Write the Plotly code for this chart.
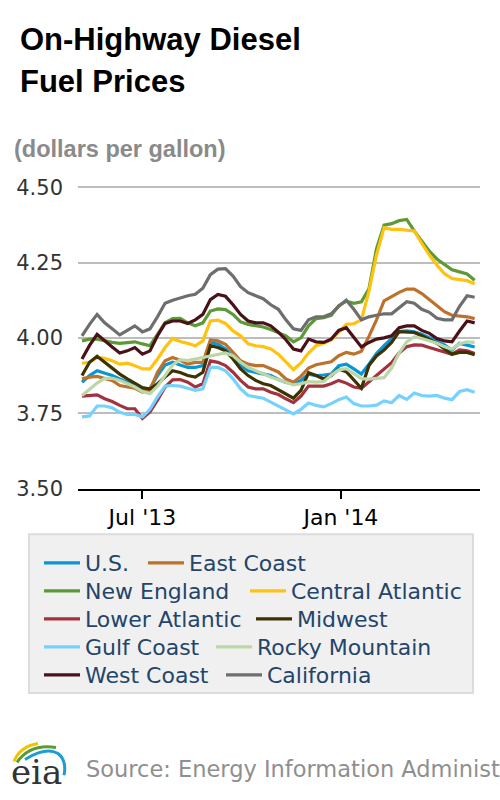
import pandas as pd
import plotly.graph_objects as go

# ---------------- data (weekly, $/gal) ----------------
start_week = "2013-05-06"
n_weeks = 53
weeks = pd.date_range(start_week, periods=n_weeks, freq="7D")

us = [3.853, 3.875, 3.891, 3.884, 3.875, 3.864, 3.853, 3.842, 3.830, 3.833,
      3.875, 3.910, 3.919, 3.910, 3.902, 3.902, 3.908, 3.985, 3.979, 3.963,
      3.935, 3.908, 3.891, 3.886, 3.880, 3.875, 3.862, 3.852, 3.848, 3.859,
      3.880, 3.875, 3.877, 3.880, 3.908, 3.913, 3.897, 3.880, 3.913, 3.948,
      3.974, 3.996, 4.021, 4.023, 4.020, 4.012, 4.001, 3.990, 3.977, 3.960,
      3.982, 3.976, 3.970]
east_coast = [3.864, 3.870, 3.872, 3.866, 3.859, 3.842, 3.837, 3.833, 3.820, 3.826,
              3.886, 3.924, 3.935, 3.926, 3.913, 3.919, 3.919, 3.993, 3.990, 3.979,
              3.952, 3.924, 3.913, 3.908, 3.908, 3.897, 3.887, 3.864, 3.853, 3.873,
              3.900, 3.911, 3.917, 3.921, 3.941, 3.952, 3.946, 3.956, 4.005, 4.060,
              4.123, 4.138, 4.151, 4.162, 4.162, 4.147, 4.127, 4.105, 4.087, 4.075,
              4.072, 4.070, 4.064]
new_england = [3.990, 3.996, 3.996, 3.990, 3.985, 3.982, 3.985, 3.987, 3.980, 3.974,
               4.012, 4.050, 4.064, 4.065, 4.050, 4.040, 4.050, 4.089, 4.096, 4.094,
               4.078, 4.053, 4.045, 4.040, 4.036, 4.028, 4.018, 4.007, 3.987, 4.000,
               4.040, 4.064, 4.067, 4.075, 4.107, 4.122, 4.115, 4.120, 4.163, 4.295,
               4.374, 4.379, 4.389, 4.393, 4.355, 4.322, 4.288, 4.262, 4.244, 4.226,
               4.219, 4.212, 4.191]
central_atlantic = [3.916, 3.919, 3.935, 3.932, 3.924, 3.913, 3.916, 3.908, 3.897, 3.897,
                    3.930, 3.968, 3.998, 3.988, 3.982, 3.974, 3.990, 4.056, 4.059, 4.048,
                    4.023, 4.007, 3.980, 3.974, 3.971, 3.963, 3.946, 3.919, 3.895, 3.917,
                    3.950, 3.974, 3.982, 3.993, 4.018, 4.045, 4.047, 4.060, 4.155, 4.275,
                    4.366, 4.360, 4.360, 4.357, 4.355, 4.314, 4.275, 4.242, 4.213, 4.197,
                    4.193, 4.190, 4.180]
lower_atlantic = [3.807, 3.809, 3.811, 3.798, 3.789, 3.776, 3.765, 3.765, 3.733, 3.754,
                  3.793, 3.837, 3.861, 3.862, 3.853, 3.837, 3.848, 3.924, 3.919, 3.908,
                  3.886, 3.859, 3.837, 3.831, 3.831, 3.820, 3.812, 3.798, 3.785, 3.807,
                  3.840, 3.840, 3.840, 3.848, 3.859, 3.850, 3.837, 3.833, 3.855, 3.875,
                  3.896, 3.918, 3.950, 3.971, 3.977, 3.976, 3.968, 3.960, 3.952, 3.946,
                  3.960, 3.957, 3.948]
midwest = [3.875, 3.919, 3.939, 3.919, 3.897, 3.880, 3.864, 3.850, 3.835, 3.830,
           3.848, 3.870, 3.891, 3.885, 3.875, 3.870, 3.886, 3.974, 3.968, 3.957,
           3.930, 3.897, 3.875, 3.859, 3.848, 3.842, 3.828, 3.812, 3.800, 3.826,
           3.884, 3.875, 3.864, 3.875, 3.897, 3.888, 3.859, 3.833, 3.908, 3.940,
           3.960, 3.985, 4.021, 4.020, 4.018, 4.007, 3.993, 3.982, 3.963, 3.946,
           3.952, 3.952, 3.944]
gulf_coast = [3.738, 3.741, 3.774, 3.774, 3.768, 3.753, 3.746, 3.746, 3.738, 3.763,
              3.804, 3.840, 3.842, 3.840, 3.833, 3.826, 3.831, 3.902, 3.902, 3.891,
              3.864, 3.831, 3.809, 3.804, 3.800, 3.787, 3.773, 3.759, 3.748, 3.763,
              3.784, 3.776, 3.771, 3.782, 3.795, 3.804, 3.782, 3.774, 3.774, 3.777,
              3.791, 3.785, 3.809, 3.796, 3.817, 3.809, 3.807, 3.809, 3.800, 3.795,
              3.822, 3.828, 3.820]
rocky_mountain = [3.809, 3.831, 3.850, 3.866, 3.866, 3.859, 3.848, 3.837, 3.822, 3.815,
                  3.840, 3.875, 3.910, 3.928, 3.925, 3.930, 3.935, 3.941, 3.946, 3.950,
                  3.941, 3.919, 3.902, 3.891, 3.880, 3.870, 3.861, 3.852, 3.844, 3.848,
                  3.855, 3.853, 3.855, 3.876, 3.894, 3.898, 3.882, 3.865, 3.863, 3.865,
                  3.868, 3.900, 3.950, 3.987, 4.003, 3.998, 3.991, 3.982, 3.971, 3.963,
                  3.981, 3.987, 3.985]
west_coast = [3.930, 3.975, 4.012, 3.990, 3.970, 3.950, 3.957, 3.968, 3.946, 3.957,
              4.007, 4.048, 4.056, 4.056, 4.048, 4.060, 4.078, 4.127, 4.144, 4.138,
              4.110, 4.078, 4.056, 4.050, 4.050, 4.040, 4.019, 3.994, 3.963, 3.957,
              3.996, 3.987, 3.985, 3.996, 4.025, 4.034, 4.000, 3.970, 3.985, 3.996,
              4.000, 4.007, 4.034, 4.040, 4.040, 4.025, 4.015, 3.998, 3.990, 3.987,
              4.023, 4.056, 4.050]
california = [4.007, 4.045, 4.078, 4.050, 4.030, 4.010, 4.025, 4.040, 4.020, 4.030,
              4.070, 4.115, 4.125, 4.133, 4.140, 4.145, 4.165, 4.210, 4.228, 4.230,
              4.205, 4.170, 4.150, 4.140, 4.130, 4.110, 4.095, 4.060, 4.030, 4.025,
              4.060, 4.070, 4.070, 4.080, 4.105, 4.125, 4.095, 4.060, 4.070, 4.075,
              4.080, 4.080, 4.100, 4.120, 4.115, 4.095, 4.085, 4.065, 4.060, 4.060,
              4.105, 4.140, 4.135]

series_names = ["U.S.", "East Coast", "New England", "Central Atlantic",
                "Lower Atlantic", "Midwest", "Gulf Coast", "Rocky Mountain",
                "West Coast", "California"]
series_values = [us, east_coast, new_england, central_atlantic, lower_atlantic,
                 midwest, gulf_coast, rocky_mountain, west_coast, california]
series_colors = ["#0a95d6", "#bd722c", "#5b9a34", "#ffc20e", "#a3323f",
                 "#3d3202", "#75d2ff", "#bbd7a7", "#4a1118", "#6e6e6e"]

y_tick_values = [3.50, 3.75, 4.00, 4.25, 4.50]
title_lines = ["On-Highway Diesel", "Fuel Prices"]
units_label = "(dollars per gallon)"
source_text = "Source: Energy Information Administration"

# ---------------- geometry helpers ----------------
W, H = 500, 800
ML, MR, MT, MB = 78, 20, 186, 309
PW, PH = W - ML - MR, H - MT - MB


def pxx(x):
    return (x - ML) / PW


def pxy(y):
    return (H - MB - y) / PH


# legend item placement (swatch left x, row centre y) in pixels
legend_pos = [(44, 563), (148, 563), (44, 591), (250, 591), (44, 619),
              (256, 619), (44, 647), (216, 647), (44, 675), (226, 675)]

fig = go.Figure()
for i, (name, vals, col) in enumerate(zip(series_names, series_values, series_colors)):
    lg = "legend" if i == 0 else f"legend{i + 1}"
    fig.add_trace(go.Scatter(
        x=weeks, y=vals, name=name, mode="lines",
        line=dict(color=col, width=3.2),
        legend=lg, hovertemplate="%{x|%b %d, %Y}: $%{y:.3f}<extra>" + name + "</extra>",
    ))

layout_legends = {}
for i, (sx, cy) in enumerate(legend_pos):
    key = "legend" if i == 0 else f"legend{i + 1}"
    layout_legends[key] = dict(
        x=(sx - 5) / W, y=1 - cy / H, xref="container", yref="container",
        xanchor="left", yanchor="middle", orientation="h",
        bgcolor="rgba(0,0,0,0)", borderwidth=0, itemwidth=36,
        font=dict(family="DejaVu Sans", size=22, color="#23456a"),
        traceorder="normal",
    )

annotations = [
    dict(text="<b>" + title_lines[0] + "</b>", x=pxx(18), y=pxy(38.5), xref="paper", yref="paper",
         xanchor="left", yanchor="middle", showarrow=False,
         font=dict(family="Liberation Sans", size=31, color="#000000")),
    dict(text="<b>" + title_lines[1] + "</b>", x=pxx(18), y=pxy(80.5), xref="paper", yref="paper",
         xanchor="left", yanchor="middle", showarrow=False,
         font=dict(family="Liberation Sans", size=31, color="#000000")),
    dict(text="<b>" + units_label + "</b>", x=pxx(12), y=pxy(149), xref="paper", yref="paper",
         xanchor="left", yanchor="middle", showarrow=False,
         font=dict(family="Liberation Sans", size=23.5, color="#8a8a8a")),
    dict(text=source_text, x=pxx(84), y=pxy(774), xref="paper", yref="paper",
         xanchor="left", yanchor="middle", showarrow=False,
         font=dict(family="DejaVu Sans", size=22.5, color="#8f8f8f")),
    dict(text="eia", x=pxx(9), y=pxy(777), xref="paper", yref="paper",
         xanchor="left", yanchor="middle", showarrow=False,
         font=dict(family="DejaVu Serif", size=34, color="#333333")),
]


def arc_path(points):
    (x0, y0), rest = points[0], points[1:]
    d = f"M {pxx(x0)} {pxy(y0)}"
    for j in range(0, len(rest), 2):
        (cx, cy), (ex, ey) = rest[j], rest[j + 1]
        d += f" Q {pxx(cx)} {pxy(cy)} {pxx(ex)} {pxy(ey)}"
    return d


shapes = [
    dict(type="rect", xref="paper", yref="paper", x0=pxx(29), x1=pxx(473),
         y0=pxy(537), y1=pxy(697), fillcolor="#f0f0f0",
         line=dict(color="#dcdcdc", width=2), layer="below"),
    dict(type="path", xref="paper", yref="paper",
         path=arc_path([(14, 766), (20, 751), (38, 748)]),
         line=dict(color="#f2c200", width=3)),
    dict(type="path", xref="paper", yref="paper",
         path=arc_path([(17, 767), (30, 748), (56, 752)]),
         line=dict(color="#5c9b2f", width=3)),
    dict(type="path", xref="paper", yref="paper",
         path=arc_path([(25, 764), (46, 751), (58, 758), (67, 765), (64, 780)]),
         line=dict(color="#1e9bd7", width=3)),
]

fig.update_layout(
    width=W, height=H,
    margin=dict(l=ML, r=MR, t=MT, b=MB, pad=0),
    paper_bgcolor="#ffffff", plot_bgcolor="#ffffff",
    showlegend=True,
    annotations=annotations,
    shapes=shapes,
    font=dict(family="DejaVu Sans", color="#333333"),
    xaxis=dict(
        type="date",
        range=["2013-05-02 07:00", "2014-05-09 23:00"],
        tick0="2013-01-01", dtick="M6", tickformat="%b '%y",
        ticks="outside", ticklen=8, tickwidth=2, tickcolor="#000000",
        showline=True, linecolor="#000000", linewidth=2,
        showgrid=False, zeroline=False,
        tickfont=dict(family="DejaVu Sans", size=22, color="#000000"),
    ),
    yaxis=dict(
        range=[3.5, 4.504], tickvals=y_tick_values, tickformat=".2f",
        showgrid=True, gridcolor="#bdbdbd", gridwidth=2,
        zeroline=False, showline=False, ticks="",
        ticklabelstandoff=14,
        tickfont=dict(family="DejaVu Sans", size=21, color="#333333"),
    ),
    **layout_legends,
)

fig.write_html("out.html", config={"displayModeBar": False},
               post_script="document.body.style.margin='0';")
